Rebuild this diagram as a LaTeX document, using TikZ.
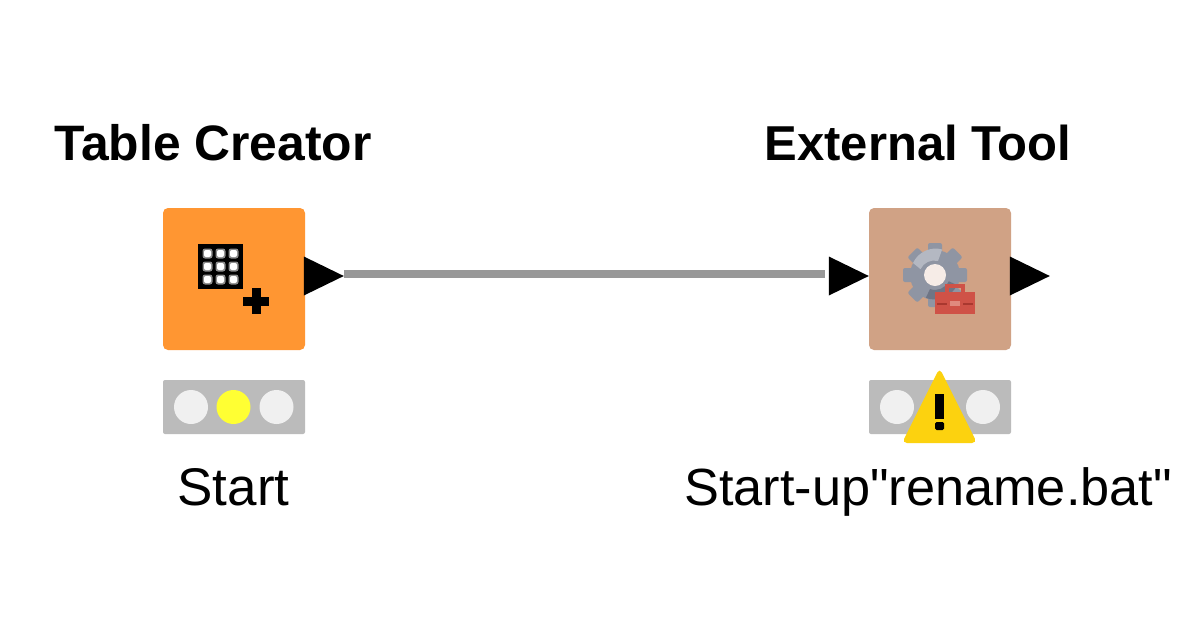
\documentclass[tikz,border=0pt]{standalone}
\usepackage{fontspec}
\setmainfont{Liberation Sans}
\font\plainname="Liberation Sans" at 53pt
\font\plainlong="Liberation Sans" at 52.3pt
\usetikzlibrary{shapes.geometric}
\definecolor{srcorange}{HTML}{FF9632}
\definecolor{toolbrown}{HTML}{D0A285}
\definecolor{lightgrey}{HTML}{BBBBBB}
\definecolor{lampoff}{HTML}{F0F0F0}
\definecolor{lampyellow}{HTML}{FFFF33}
\definecolor{linegrey}{HTML}{989898}
\definecolor{warnyellow}{HTML}{FCD20F}
\definecolor{gearcol}{HTML}{8F95A3}
\definecolor{gearlight}{HTML}{B4B8C2}
\definecolor{geardark}{HTML}{6F7585}
\definecolor{boxred}{HTML}{CF5247}
\definecolor{boxlight}{HTML}{E08A7E}
\definecolor{boxdark}{HTML}{A9382F}
\tikzset{
  nodebox/.style={rectangle,rounded corners=5pt,minimum width=142pt,minimum height=142pt,inner sep=0pt,fill=#1,draw=none},
  lightbar/.style={rectangle,rounded corners=2pt,minimum width=142pt,minimum height=54pt,inner sep=0pt,fill=lightgrey,draw=none},
  lamp/.style={circle,minimum size=34pt,inner sep=0pt,fill=#1,draw=none},
  porttri/.style={isosceles triangle,isosceles triangle stretches,shape border rotate=0,minimum width=39pt,minimum height=40pt,inner sep=0pt,fill=black,draw=none},
  titlelabel/.style={font=\fontsize{#1}{52pt}\selectfont\bfseries,inner sep=0pt,anchor=base},
  namelabel/.style={font=#1,inner sep=0pt,anchor=base},
  wire/.style={draw=linegrey,line width=8pt}
}
\begin{document}
\begin{tikzpicture}[x=1pt,y=-1pt]
\useasboundingbox (0,0) rectangle (1200,630);
\fill[white] (0,0) rectangle (1200,630);
% titles
\node[titlelabel=49.8pt] (t1) at (213,160) {Table Creator};
\node[titlelabel=49pt] (t2) at (918,160) {External Tool};
% boxes
\node[nodebox=srcorange] (creator) at (234,279) {};
\node[nodebox=toolbrown] (tool) at (940,279) {};
% ports
\node[porttri] (outA) at (316,276) {};
\node[porttri] (inB) at (841,276) {};
\node[porttri] (outB) at (1022,276) {};
\draw[wire,shorten >=4pt] (outA.apex |- 0,274) -- (inB.west |- 0,274);
% table icon
\fill[black] (198,244) rectangle (243,289);
\foreach \i in {0,1,2}\foreach \j in {0,1,2}{
  \fill[white!55!black,rounded corners=2.5pt] (202.5+13*\i,248.5+13*\j) rectangle +(10,10);
  \fill[white,rounded corners=2pt] (204+13*\i,250+13*\j) rectangle +(7,7);
}
\fill[black] (243,297) rectangle (269,305.5);
\fill[black] (251.5,288) rectangle (260.5,314);
% gear icon
\begin{scope}[shift={(935,275)}]
\foreach \a in {0,45,...,315}{
  \fill[gearcol,rotate=\a,rounded corners=2pt] (-7,-32) rectangle (7,-18);
}
\fill[gearcol] (0,0) circle (25);
\fill[gearlight] (-22,-12) arc (205:285:25) -- (3,-14) arc (285:205:15) -- cycle;
\fill[geardark] (22,10) arc (25:110:25) -- (-5,14) arc (110:25:15) -- cycle;
\fill[white!80!toolbrown] (0,0) circle (11);
\end{scope}
% toolbox icon
\draw[boxred,line width=4pt] (947,294) -- (947,285.5) -- (963,285.5) -- (963,294);
\fill[boxred] (935,292) rectangle (975,314);
\fill[boxdark] (937,303) rectangle (947,305);
\fill[boxdark] (963,303) rectangle (973,305);
\fill[boxlight] (950,301) rectangle (960,306);
% traffic lights
\node[lightbar] (barA) at (234,407) {};
\node[lamp=lampoff] (a1) at (191,407) {};
\node[lamp=lampyellow] (a2) at (233.5,407) {};
\node[lamp=lampoff] (a3) at (276.5,407) {};
\node[lightbar] (barB) at (940,407) {};
\node[lamp=lampoff] (b1) at (897,407) {};
\node[lamp=lampoff] (b3) at (983,407) {};
% warning
\fill[warnyellow,rounded corners=5pt] (939.5,368) -- (977,443) -- (902,443) -- cycle;
\fill[black] (935,394) rectangle (944,419);
\fill[black,rounded corners=1.5pt] (935,422) rectangle (944,430);
% names
\node[namelabel=\plainname] (n1) at (233.5,505) {Start};
\node[namelabel=\plainlong] (n2) at (928,505) {Start-up"rename.bat"};
\end{tikzpicture}
\end{document}
